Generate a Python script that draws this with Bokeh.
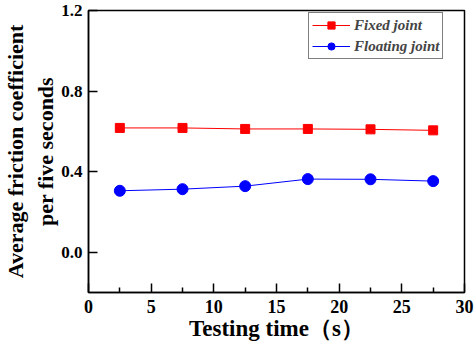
from bokeh.plotting import figure
from bokeh.models import FixedTicker, Range1d, Legend, LegendItem, NumeralTickFormatter
from bokeh.embed import file_html
from bokeh.resources import INLINE

time_s = [2.5, 7.5, 12.5, 17.5, 22.5, 27.5]
fixed_joint = [0.617, 0.617, 0.612, 0.612, 0.610, 0.605]
floating_joint = [0.305, 0.313, 0.328, 0.363, 0.362, 0.353]
x_ticks = [0, 5, 10, 15, 20, 25, 30]
x_minor = [2.5, 7.5, 12.5, 17.5, 22.5, 27.5]
y_ticks = [0.0, 0.4, 0.8, 1.2]

FONT = "Liberation Serif"

p = figure(width=474, height=351, output_backend="svg", toolbar_location=None,
           x_range=Range1d(0, 30), y_range=Range1d(-0.2, 1.2),
           min_border_left=88, min_border_right=10, min_border_top=10, min_border_bottom=59)
p.grid.visible = False
p.outline_line_color = "black"
p.outline_line_width = 1.5
p.background_fill_color = "white"
p.border_fill_color = "white"

r1l = p.line(time_s, fixed_joint, line_color="#ff0000", line_width=1)
r1m = p.scatter(time_s, fixed_joint, marker="square", size=9, fill_color="#ff0000", line_color="#ff0000")
r2l = p.line(time_s, floating_joint, line_color="#0000ff", line_width=1)
r2m = p.scatter(time_s, floating_joint, marker="circle", size=11, fill_color="#0000ff", line_color="#0000ff")

legend = Legend(items=[LegendItem(label="Fixed joint", renderers=[r1l, r1m]),
                       LegendItem(label="Floating joint", renderers=[r2l, r2m])],
                location=(220, 233))
legend.label_text_font = FONT
legend.label_text_font_style = "bold italic"
legend.label_text_font_size = "15px"
legend.border_line_color = "black"
legend.border_line_width = 1
legend.glyph_width = 38
legend.glyph_height = 18
legend.spacing = 3
legend.padding = 3
legend.margin = 0
legend.label_standoff = 4
p.add_layout(legend)

for ax in (p.xaxis[0], p.yaxis[0]):
    ax.axis_line_width = 1.5
    ax.major_tick_line_width = 1.5
    ax.major_tick_in = 9
    ax.major_tick_out = 0
    ax.minor_tick_in = 5
    ax.minor_tick_out = 0
    ax.minor_tick_line_width = 1.5
    ax.major_label_text_font = FONT
    ax.major_label_text_font_style = "bold"
    ax.major_label_text_color = "black"
    ax.axis_label_text_font = FONT
    ax.axis_label_text_font_style = "bold"
    ax.axis_label_text_color = "black"

p.xaxis.ticker = FixedTicker(ticks=x_ticks, minor_ticks=x_minor)
p.xaxis.major_label_text_font_size = "18px"
p.xaxis.major_label_standoff = 7
p.xaxis.axis_label = "Testing time（s）"
p.xaxis.axis_label_text_font_size = "23px"
p.xaxis.axis_label_standoff = 0

p.yaxis.ticker = FixedTicker(ticks=y_ticks)
p.yaxis.formatter = NumeralTickFormatter(format="0.0")
p.yaxis.minor_tick_line_color = None
p.yaxis.major_label_text_font_size = "17px"
p.yaxis.major_label_standoff = 6
p.yaxis.axis_label = "Average friction coefficient\nper five seconds"
p.yaxis.axis_label_text_font_size = "22px"
p.yaxis.axis_label_standoff = 0

open("out.html", "w").write(file_html(p, INLINE))
